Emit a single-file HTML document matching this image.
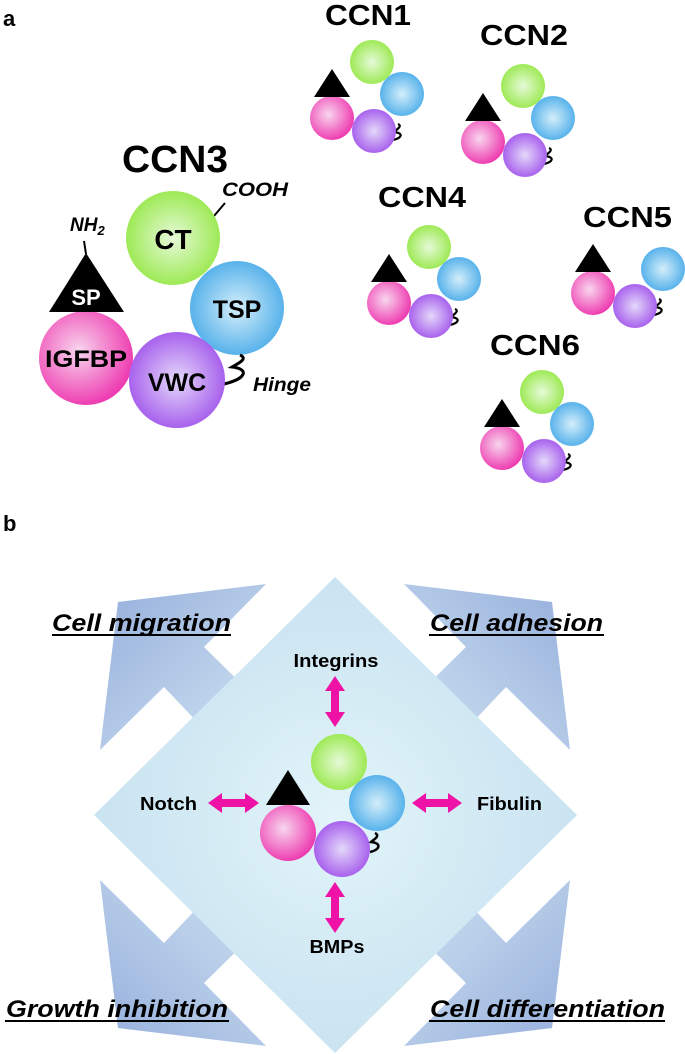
<!DOCTYPE html>
<html><head><meta charset="utf-8"><style>
html,body{margin:0;padding:0;background:#fff;}
svg{display:block;font-family:"Liberation Sans",Arial,sans-serif;font-weight:bold;}
</style></head><body>
<svg width="685" height="1054" viewBox="0 0 685 1054" xmlns="http://www.w3.org/2000/svg">
<defs>
<radialGradient id="gP" cx="0.42" cy="0.42" r="0.6"><stop offset="0" stop-color="#f8d6ee"/><stop offset="1" stop-color="#ee3ab0"/></radialGradient>
<radialGradient id="gG" cx="0.5" cy="0.5" r="0.6"><stop offset="0" stop-color="#e6fad8"/><stop offset="1" stop-color="#90e63c"/></radialGradient>
<radialGradient id="gB" cx="0.5" cy="0.5" r="0.6"><stop offset="0" stop-color="#d4eefa"/><stop offset="1" stop-color="#3fa6e8"/></radialGradient>
<radialGradient id="gV" cx="0.5" cy="0.5" r="0.6"><stop offset="0" stop-color="#e4d8fa"/><stop offset="1" stop-color="#9c4aea"/></radialGradient>
<radialGradient id="gD" cx="0.5" cy="0.5" r="0.6"><stop offset="0" stop-color="#e2f4f9"/><stop offset="1" stop-color="#c4e0ef"/></radialGradient>
<linearGradient id="gA1" x1="0" y1="0" x2="1" y2="1"><stop offset="0" stop-color="#96afdc"/><stop offset="1" stop-color="#cfe3f2"/></linearGradient>
<linearGradient id="gA2" x1="1" y1="0" x2="0" y2="1"><stop offset="0" stop-color="#96afdc"/><stop offset="1" stop-color="#cfe3f2"/></linearGradient>
<linearGradient id="gA3" x1="0" y1="1" x2="1" y2="0"><stop offset="0" stop-color="#96afdc"/><stop offset="1" stop-color="#cfe3f2"/></linearGradient>
<linearGradient id="gA4" x1="1" y1="1" x2="0" y2="0"><stop offset="0" stop-color="#96afdc"/><stop offset="1" stop-color="#cfe3f2"/></linearGradient>
<g id="mol">
<circle cx="40" cy="-56" r="22" fill="url(#gG)"/>
<circle cx="70" cy="-24" r="22" fill="url(#gB)"/>
<path d="M66,6 C71,8 64,12 62,14 C72,15 70,20 61,22" fill="none" stroke="#000" stroke-width="2.2"/>
<circle cx="0" cy="0" r="22" fill="url(#gP)"/>
<circle cx="42" cy="13" r="22" fill="url(#gV)"/>
<polygon points="0,-49 -18,-21 18,-21" fill="#000"/>
</g>
</defs>

<text x="3" y="26" font-size="22">a</text>
<text x="3" y="531" font-size="22">b</text>

<text x="122" y="172" font-size="38" textLength="106" lengthAdjust="spacingAndGlyphs">CCN3</text>
<line x1="214" y1="216" x2="225" y2="203" stroke="#000" stroke-width="2"/>
<text x="222" y="196" font-size="19" font-style="italic" textLength="66" lengthAdjust="spacingAndGlyphs">COOH</text>
<text x="70" y="231" font-size="19" font-style="italic">NH<tspan font-size="13" dy="4">2</tspan></text>
<line x1="84" y1="241" x2="86" y2="254" stroke="#000" stroke-width="2"/>
<circle cx="173" cy="238" r="47" fill="url(#gG)"/>
<text x="173" y="249" font-size="28" text-anchor="middle">CT</text>
<circle cx="237" cy="308" r="47" fill="url(#gB)"/>
<text x="237" y="318" font-size="25" text-anchor="middle">TSP</text>
<path d="M240,355 C249,359 237,364 232,367 C250,369 246,379 224,384" fill="none" stroke="#000" stroke-width="3"/>
<text x="253" y="391" font-size="19" font-style="italic" textLength="58" lengthAdjust="spacingAndGlyphs">Hinge</text>
<circle cx="86" cy="358" r="47" fill="url(#gP)"/>
<text x="86" y="367" font-size="24" text-anchor="middle" textLength="82" lengthAdjust="spacingAndGlyphs">IGFBP</text>
<circle cx="177" cy="380" r="48" fill="url(#gV)"/>
<text x="177" y="391" font-size="25" text-anchor="middle">VWC</text>
<polygon points="86,253 49,312 124,312" fill="#000"/>
<text x="86" y="305" font-size="22" fill="#fff" text-anchor="middle">SP</text>

<text x="325" y="25" font-size="29" textLength="86" lengthAdjust="spacingAndGlyphs">CCN1</text>
<use href="#mol" x="332" y="118"/>
<text x="480" y="45" font-size="29" textLength="88" lengthAdjust="spacingAndGlyphs">CCN2</text>
<use href="#mol" x="483" y="142"/>
<text x="378" y="207" font-size="29" textLength="88" lengthAdjust="spacingAndGlyphs">CCN4</text>
<use href="#mol" x="389" y="303"/>
<text x="490" y="355" font-size="29" textLength="90" lengthAdjust="spacingAndGlyphs">CCN6</text>
<use href="#mol" x="502" y="448"/>
<text x="583" y="227" font-size="29" textLength="89" lengthAdjust="spacingAndGlyphs">CCN5</text>
<g transform="translate(593,293)">
<circle cx="70" cy="-24" r="22" fill="url(#gB)"/>
<path d="M66,6 C71,8 64,12 62,14 C72,15 70,20 61,22" fill="none" stroke="#000" stroke-width="2.2"/>
<circle cx="0" cy="0" r="22" fill="url(#gP)"/>
<circle cx="42" cy="13" r="22" fill="url(#gV)"/>
<polygon points="0,-49 -18,-21 18,-21" fill="#000"/>
</g>

<polygon points="118,602 266,584 204,647 260,702 218,744 164,687 100,750" fill="url(#gA1)"/>
<polygon points="552,602 404,584 466,647 410,702 452,744 506,687 570,750" fill="url(#gA2)"/>
<polygon points="118,1028 266,1046 204,983 260,928 218,886 164,943 100,880" fill="url(#gA3)"/>
<polygon points="552,1028 404,1046 466,983 410,928 452,886 506,943 570,880" fill="url(#gA4)"/>
<polygon points="335,577 577,815 335,1053 94,815" fill="url(#gD)"/>

<g font-style="italic" font-size="24">
<text x="52" y="631" textLength="179" lengthAdjust="spacingAndGlyphs">Cell migration</text>
<rect x="52" y="634" width="179" height="2" fill="#000"/>
<text x="430" y="631" textLength="173" lengthAdjust="spacingAndGlyphs">Cell adhesion</text>
<rect x="429" y="634" width="175" height="2" fill="#000"/>
<text x="6" y="1017" textLength="222" lengthAdjust="spacingAndGlyphs">Growth inhibition</text>
<rect x="5" y="1020" width="224" height="2" fill="#000"/>
<text x="430" y="1017" textLength="235" lengthAdjust="spacingAndGlyphs">Cell differentiation</text>
<rect x="429" y="1020" width="236" height="2" fill="#000"/>
</g>

<g font-size="18">
<text x="336" y="667" text-anchor="middle" textLength="85" lengthAdjust="spacingAndGlyphs">Integrins</text>
<text x="140" y="810" textLength="57" lengthAdjust="spacingAndGlyphs">Notch</text>
<text x="477" y="810" textLength="65" lengthAdjust="spacingAndGlyphs">Fibulin</text>
<text x="337" y="953" text-anchor="middle" textLength="55" lengthAdjust="spacingAndGlyphs">BMPs</text>
</g>

<g fill="#ee12a6">
<polygon points="335,676 345,691 339,691 339,712 345,712 335,727 325,712 331,712 331,691 325,691"/>
<polygon points="335,882 345,897 339,897 339,918 345,918 335,933 325,918 331,918 331,897 325,897"/>
<polygon points="208,803 222,793 222,799 245,799 245,793 259,803 245,813 245,807 222,807 222,813"/>
<polygon points="412,803 426,793 426,799 448,799 448,793 462,803 448,813 448,807 426,807 426,813"/>
</g>

<ellipse cx="339" cy="762" rx="28" ry="28" fill="url(#gG)"/>
<ellipse cx="377" cy="803" rx="28" ry="28" fill="url(#gB)"/>
<path d="M375,833 C381,836 373,840 371,842 C382,843 380,850 370,852" fill="none" stroke="#000" stroke-width="2.5"/>
<ellipse cx="288" cy="833" rx="28" ry="28" fill="url(#gP)"/>
<ellipse cx="342" cy="849" rx="28" ry="28" fill="url(#gV)"/>
<polygon points="288,770 266,805 310,805" fill="#000"/>
</svg>
</body></html>
